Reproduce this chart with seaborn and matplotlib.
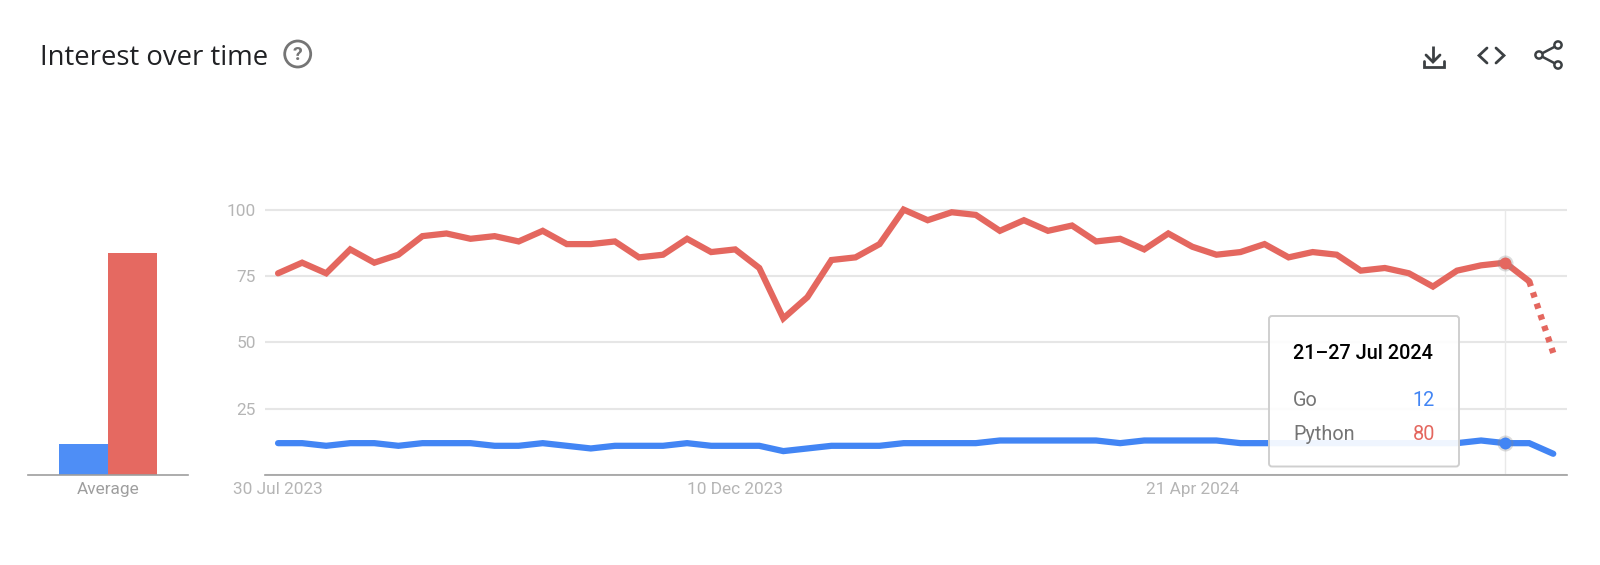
import pandas as pd
import numpy as np
import matplotlib
matplotlib.use('Agg')
import matplotlib.pyplot as plt
from matplotlib.patches import Circle, FancyBboxPatch
import seaborn as sns

week_start = '2023-07-30'
python_vals = [76, 80, 76, 85, 80, 83, 90, 91, 89, 90, 88, 92, 87, 87, 88, 82, 83, 89,
               84, 85, 78, 59, 67, 81, 82, 87, 100, 96, 99, 98, 92, 96, 92, 94, 88, 89,
               85, 91, 86, 83, 84, 87, 82, 84, 83, 77, 78, 76, 71, 77, 79, 80, 73, 46]
go_vals = [12, 12, 11, 12, 12, 11, 12, 12, 12, 11, 11, 12, 11, 10, 11, 11, 11, 12,
           11, 11, 11, 9, 10, 11, 11, 11, 12, 12, 12, 12, 13, 13, 13, 13, 13, 12,
           13, 13, 13, 13, 12, 12, 12, 12, 12, 12, 12, 12, 12, 12, 13, 12, 12, 8]
avg_terms = ['Go', 'Python']
avg_vals = [11.5, 83.6]
y_ticks = [0, 25, 50, 75, 100]
y_labels = ['', '25', '50', '75', '100']
x_tick_dates = ['2023-07-30', '2023-12-10', '2024-04-21']
x_tick_labels = ['30 Jul 2023', '10 Dec 2023', '21 Apr 2024']
hover_date = '2024-07-21'
hover_go = 12
hover_python = 80

BLUE = '#4285f4'
RED = '#e4675f'
GRID = '#e6e6e6'
TICK = '#b5b5b5'
LW = 4.5
W, H = 1600, 565

sns.set_theme(style='white')
plt.rcParams['font.family'] = ['Roboto', 'DejaVu Sans']

dates = pd.date_range(week_start, periods=len(python_vals), freq='7D')
df = pd.DataFrame({'date': dates, 'Python': python_vals, 'Go': go_vals})
partial = df['date'] >= '2024-07-28'
final = df['date'] <= '2024-07-28'

fig = plt.figure(figsize=(16, 5.65), dpi=100)
fig.patch.set_facecolor('white')


def px_axes(x0, y0, x1, y1, **kw):
    return fig.add_axes([x0 / W, 1 - y1 / H, (x1 - x0) / W, (y1 - y0) / H], **kw)


# Average bars
ax_bar = px_axes(28, 195, 188, 475)
avg_df = pd.DataFrame({'x': ['Average'] * 2, 'term': avg_terms, 'val': avg_vals})
sns.barplot(data=avg_df, x='x', y='val', hue='term', hue_order=avg_terms,
            palette=['#4e8ef6', '#e56961'], width=0.61, gap=0, saturation=1,
            linewidth=0, legend=False, ax=ax_bar)
ax_bar.set_xlim(-0.5, 0.5)
ax_bar.set_ylim(0, 105.5)
ax_bar.set_xlabel('')
ax_bar.set_ylabel('')
ax_bar.set_yticks([])
ax_bar.tick_params(axis='x', length=0, pad=5, labelsize=12.4, labelcolor='#9e9e9e')
sns.despine(ax=ax_bar, left=True)
ax_bar.spines['bottom'].set_color('#9e9e9e')
ax_bar.spines['bottom'].set_linewidth(1.2)

# Main chart
ax = px_axes(265, 195, 1567, 475)
ax.set_xlim(dates[0] - pd.Timedelta(days=3.8), dates[-1] + pd.Timedelta(days=4))
ax.set_ylim(0, 105.5)
ax.set_yticks(y_ticks)
ax.set_yticklabels(y_labels)
ax.set_xticks(pd.to_datetime(x_tick_dates))
ax.set_xticklabels(x_tick_labels)
ax.tick_params(axis='both', length=0, labelsize=12.4, labelcolor=TICK)
ax.tick_params(axis='y', pad=6.5)
ax.tick_params(axis='x', pad=5)
ax.grid(axis='y', color=GRID, linewidth=1.5)
ax.set_axisbelow(True)
sns.despine(ax=ax, left=True)
ax.spines['bottom'].set_color('#9e9e9e')
ax.spines['bottom'].set_linewidth(1.2)

ax.vlines(pd.Timestamp(hover_date), 0, 100, color='#e9e9e9', linewidth=1, zorder=1)

sns.lineplot(data=df[final], x='date', y='Python', color=RED, linewidth=LW,
             solid_joinstyle='miter', ax=ax, zorder=3, errorbar=None)
sns.lineplot(data=df[partial], x='date', y='Python', color=RED, linewidth=LW,
             linestyle=(0, (0.85, 1.03)), dash_capstyle='butt', ax=ax, zorder=3, errorbar=None)
sns.lineplot(data=df, x='date', y='Go', color=BLUE, linewidth=LW,
             solid_joinstyle='miter', ax=ax, zorder=3, errorbar=None)
ax.set_xlabel('')
ax.set_ylabel('')

# hover points with soft halo
for val, col in [(hover_python, RED), (hover_go, BLUE)]:
    ax.plot([pd.Timestamp(hover_date)], [val], 'o', ms=11.5, color='#888888', alpha=0.3,
            mec='none', zorder=4, clip_on=False)
    ax.plot([pd.Timestamp(hover_date)], [val], 'o', ms=8.6, color=col, mec='none', zorder=5)

# Overlay in pixel coords for header, icons and tooltip
ov = fig.add_axes([0, 0, 1, 1], zorder=10)
ov.set_xlim(0, W)
ov.set_ylim(H, 0)
ov.axis('off')
ov.patch.set_alpha(0)

ov.text(39.5, 58, 'Interest over time', fontsize=19.8, family=['Open Sans', 'DejaVu Sans'],
        color='#202124', va='center', ha='left')
ov.add_patch(Circle((297.7, 54), 13, fill=False, ec='#757575', lw=2))
ov.text(297.7, 54.5, '?', fontsize=14, fontweight='bold', color='#757575', ha='center', va='center')

ICON = '#3c4043'
ov.plot([1433, 1433], [46, 61], color=ICON, lw=2, solid_capstyle='butt')
ov.plot([1426, 1433, 1440], [55, 62, 55], color=ICON, lw=2, solid_joinstyle='miter')
ov.plot([1424, 1424, 1444, 1444], [61, 67, 67, 61], color=ICON, lw=2, solid_joinstyle='miter')
ov.plot([1487, 1479, 1487], [48, 55.5, 63], color=ICON, lw=2, solid_joinstyle='miter')
ov.plot([1496, 1504, 1496], [48, 55.5, 63], color=ICON, lw=2, solid_joinstyle='miter')
ov.plot([1558, 1539, 1558], [45, 55, 65], color=ICON, lw=1.8)
for cx, cy in [(1539, 55), (1558, 45), (1558, 65)]:
    ov.add_patch(Circle((cx, cy), 3.6, fc='white', ec=ICON, lw=1.8, zorder=3))

ov.add_patch(FancyBboxPatch((1269, 316), 190, 150.5, boxstyle='round,pad=0,rounding_size=3',
                            fc=(1, 1, 1, 0.92), ec='#cfcfcf', lw=1.4))
ov.text(1293, 353.5, '21\u201327 Jul 2024', fontsize=14.3, fontweight='medium', color='#000000',
        ha='left', va='center')
ov.text(1293, 400, 'Go', fontsize=14.3, color='#757575', ha='left', va='center')
ov.text(1435, 400, str(hover_go), fontsize=14.3, color=BLUE, ha='right', va='center')
ov.text(1293, 434, 'Python', fontsize=14.3, color='#757575', ha='left', va='center')
ov.text(1435, 434, str(hover_python), fontsize=14.3, color=RED, ha='right', va='center')

fig.savefig('out.png', dpi=100)
